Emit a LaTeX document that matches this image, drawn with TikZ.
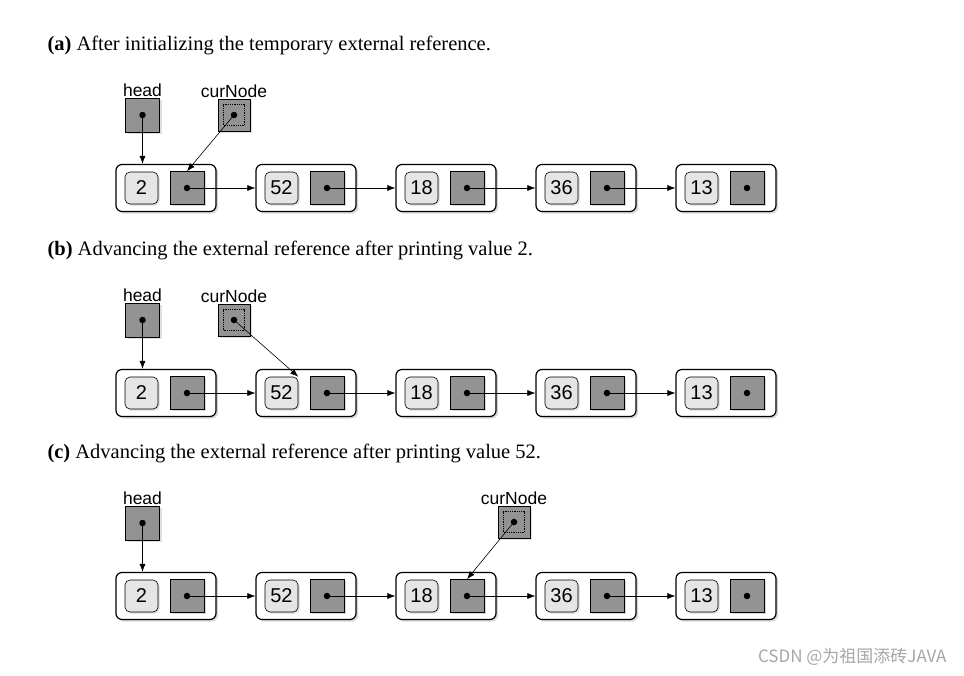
\documentclass[tikz,border=0pt]{standalone}
\usepackage{fontspec}
\setmainfont{Liberation Serif}
\newfontfamily\sansf{Liberation Sans}
\newfontfamily\cjk{Noto Sans CJK SC}
\usetikzlibrary{shadows,arrows.meta,positioning}
\begin{document}
\begin{tikzpicture}[x=1pt,y=-1pt,
 outer/.style={draw,line width=1.2pt,fill=white,rounded corners=6pt,minimum width=100pt,minimum height=47pt,drop shadow={shadow xshift=2pt,shadow yshift=-2pt,fill=gray!60}},
 val/.style={draw,semithick,fill=gray!20,rounded corners=5pt,minimum width=33pt,minimum height=32pt,font=\sansf\fontsize{20}{20}\selectfont,drop shadow={shadow xshift=1.5pt,shadow yshift=-1.5pt,fill=gray!60}},
 ptr/.style={draw,semithick,fill=gray!85,minimum width=34pt,minimum height=33pt,drop shadow={shadow xshift=1.5pt,shadow yshift=-1.5pt,fill=gray!60}},
 ext/.style={draw,semithick,fill=gray!85,minimum width=34pt,minimum height=34pt,drop shadow={shadow xshift=2pt,shadow yshift=-2pt,fill=gray!50}},
 inner/.style={draw,densely dotted,thick,minimum width=21pt,minimum height=21pt,inner sep=0pt},
 dot/.style={circle,fill=black,inner sep=0pt,minimum size=6.5pt},
 lbl/.style={font=\sansf\fontsize{17.5}{17.5}\selectfont,inner sep=1pt},
 ttl/.style={anchor=west,font=\fontsize{20.5}{20.5}\selectfont},
 arr/.style={-{Latex[length=8pt,width=6pt]},semithick}]
\useasboundingbox (0,0) rectangle (964,675);
\node[ttl] (ta) at (44,45) {\textbf{(a)} After initializing the temporary external reference.};
\node[ttl] (tb) at (44,250) {\textbf{(b)} Advancing the external reference after printing value 2.};
\node[ttl] (tc) at (44,453) {\textbf{(c)} Advancing the external reference after printing value 52.};
\foreach \r/\cy in {a/188,b/393,c/596}{
 \foreach \i/\v in {0/2,1/52,2/18,3/36,4/13}{
  \node[outer] (o\r\i) at (166+140*\i,\cy) {};
  \node[val] (v\r\i) at (141.5+140*\i,\cy) {\v};
  \node[ptr] (p\r\i) at (187+140*\i,\cy) {};
  \node[dot] (d\r\i) at (187+140*\i,\cy) {};
 }
 \foreach \i/\j in {0/1,1/2,2/3,3/4}{
  \draw[arr] (d\r\i.center) -- (o\r\j.west);
 }
 \node[ext] (h\r) at (142.5,\cy-73) {};
 \node[dot] (hd\r) at (h\r.center) {};
 \node[lbl,above=0pt of h\r] (hl\r) {head};
 \draw[arr] (hd\r.center) -- (o\r0.north -| hd\r);
}
\foreach \r/\cx/\cy in {a/234/115,b/234/320,c/514/522}{
 \node[ext,minimum width=32pt,minimum height=32pt] (c\r) at (\cx,\cy) {};
 \node[inner] (ci\r) at (c\r.center) {};
 \node[dot] (cd\r) at (c\r.center) {};
 \node[lbl,above=0pt of c\r] (cl\r) {curNode};
}
\draw[arr] (cda.center) -- (pa0.north);
\draw[arr] (cdb.center) -- (vb1.north east);
\draw[arr] (cdc.center) -- (pc2.north);
\node[anchor=east,text=gray!70,font=\cjk\fontsize{17}{17}\selectfont] (wm) at (950,657) {CSDN @为祖国添砖JAVA};
\end{tikzpicture}
\end{document}
